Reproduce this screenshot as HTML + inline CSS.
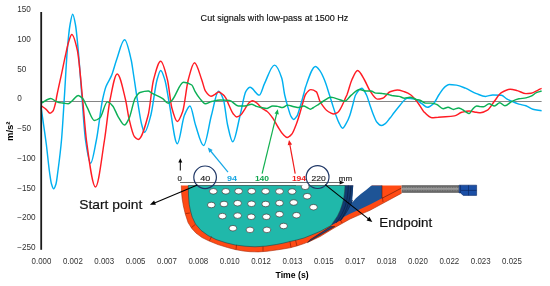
<!DOCTYPE html>
<html><head><meta charset="utf-8"><title>Cut signals with low-pass at 1500 Hz</title>
<style>html,body{margin:0;padding:0;background:#fff;}body{width:550px;height:286px;overflow:hidden;}svg{display:block;}</style>
</head><body>
<svg width="550" height="286" viewBox="0 0 550 286" font-family="'Liberation Sans', Arial, sans-serif"><line x1="41" y1="101.5" x2="541.6" y2="101.5" stroke="#858585" stroke-width="1"/>
<path d="M41.1,107.5C42.9,120.0 44.6,131.1 46.4,145.0C47.4,153.1 48.5,164.8 49.5,172.0C50.2,176.7 50.8,181.8 51.5,184.0C52.2,186.3 52.9,188.7 53.6,188.7C54.4,188.7 55.2,186.5 56.0,184.0C56.6,182.1 57.2,176.5 57.8,172.0C59.0,162.9 60.3,153.7 61.5,140.0C62.5,128.9 63.5,110.5 64.5,95.0C65.4,80.5 66.4,60.9 67.3,50.0C68.2,39.4 69.1,30.0 70.0,25.0C70.9,20.0 71.8,14.2 72.7,14.2C73.6,14.2 74.6,19.9 75.5,25.0C76.4,29.9 77.3,40.5 78.2,50.0C79.4,62.7 80.6,80.2 81.8,95.0C83.0,110.2 84.3,131.5 85.5,140.0C87.2,151.5 88.8,163.3 90.5,163.3C92.5,163.3 94.4,149.7 96.4,140.0C98.4,130.0 100.5,109.6 102.5,100.0C103.7,94.5 104.8,89.7 106.0,86.6C107.9,81.6 109.7,80.0 111.6,75.4C113.2,71.4 114.9,64.6 116.5,60.0C119.2,52.4 121.9,39.8 124.6,39.8C126.8,39.8 129.0,50.5 131.2,60.0C132.0,63.5 132.8,69.9 133.6,75.0C134.9,83.1 136.1,92.3 137.4,100.0C138.9,109.0 140.3,119.8 141.8,125.0C142.7,128.2 143.6,132.3 144.5,132.3C146.6,132.3 148.8,122.9 150.9,115.0C152.9,107.5 155.0,87.0 157.0,80.0C158.2,75.8 159.5,70.5 160.7,70.5C162.1,70.5 163.5,75.6 164.9,80.0C166.3,84.4 167.7,95.0 169.1,102.3C171.8,116.5 174.6,143.7 177.3,143.7C179.7,143.7 182.1,120.5 184.5,115.0C186.3,110.8 188.2,105.9 190.0,105.9C191.8,105.9 193.7,119.6 195.5,125.0C198.2,133.0 200.9,145.5 203.6,145.5C206.2,145.5 208.9,124.5 211.5,115.0C213.8,106.6 216.2,91.3 218.5,91.3C220.1,91.3 221.8,95.2 223.4,99.5C224.8,103.2 226.2,119.0 227.6,125.0C229.3,132.3 231.0,141.8 232.7,141.8C235.2,141.8 237.7,124.6 240.2,115.0C242.1,107.7 244.0,94.2 245.9,91.3C247.3,89.2 248.6,87.3 250.0,87.3C253.1,87.3 256.2,95.1 259.3,95.1C261.0,95.1 262.8,87.1 264.5,83.6C267.8,76.8 271.2,65.1 274.5,65.1C276.9,65.1 279.4,71.0 281.8,78.2C282.8,81.1 283.7,90.6 284.7,95.0C285.9,100.3 287.0,104.2 288.2,108.1C289.1,111.0 289.9,114.4 290.8,116.0C291.7,117.6 292.6,119.5 293.5,119.5C294.7,119.5 295.8,117.8 297.0,116.0C298.2,114.2 299.3,109.3 300.5,105.5C301.7,101.7 302.8,97.3 304.0,93.0C304.5,91.2 305.0,88.8 305.5,87.3C308.8,77.6 312.2,66.4 315.5,66.4C317.0,66.4 318.5,68.9 320.0,70.9C321.5,72.9 323.0,76.4 324.5,80.0C326.2,84.0 327.8,89.8 329.5,95.0C330.7,98.7 331.9,102.9 333.1,106.6C334.1,109.6 335.0,112.8 336.0,115.4C337.0,118.0 337.9,120.7 338.9,122.6C340.1,124.9 341.3,128.2 342.5,128.2C343.7,128.2 345.0,125.4 346.2,123.4C347.4,121.4 348.6,118.7 349.8,115.4C350.8,112.7 351.7,108.6 352.7,105.2C353.7,101.8 354.6,96.7 355.6,95.0C357.7,91.3 359.7,88.2 361.8,88.2C363.4,88.2 364.9,91.9 366.5,95.0C367.5,97.0 368.5,100.8 369.5,103.7C370.7,107.1 371.9,110.9 373.1,113.9C374.3,116.9 375.5,120.4 376.7,121.9C378.2,123.7 379.6,125.5 381.1,125.5C382.6,125.5 384.0,124.4 385.5,123.4C386.9,122.4 388.4,120.1 389.8,118.3C391.3,116.5 392.7,114.4 394.2,112.5C396.1,110.0 398.1,107.5 400.0,105.2C401.5,103.4 403.0,101.2 404.5,100.0C405.4,99.2 406.4,98.2 407.3,98.2C409.7,98.2 412.1,98.6 414.5,99.1C416.9,99.6 419.4,102.0 421.8,103.6C423.6,104.8 425.5,107.3 427.3,107.3C429.4,107.3 431.5,105.4 433.6,103.6C435.4,102.0 437.3,97.1 439.1,94.5C441.2,91.4 443.4,87.9 445.5,86.4C446.7,85.5 447.9,84.5 449.1,84.5C451.5,84.5 454.0,84.8 456.4,85.1C459.4,85.5 462.5,87.0 465.5,88.2C469.1,89.7 472.8,92.2 476.4,93.6C479.4,94.7 482.5,96.4 485.5,96.4C487.9,96.4 490.3,94.9 492.7,94.9C495.6,94.9 498.5,95.0 501.4,95.3C503.2,95.5 504.9,97.8 506.7,98.8C508.4,99.8 510.2,100.6 511.9,101.4C514.2,102.4 516.6,103.4 518.9,104.1C521.2,104.8 523.6,105.0 525.9,105.8C528.2,106.6 530.6,108.7 532.9,109.3C535.8,110.0 538.7,110.2 541.6,110.7" fill="none" stroke="#00b0f0" stroke-width="1.45" stroke-linejoin="round"/>
<path d="M41.1,105.7C42.9,107.0 44.6,108.1 46.4,109.6C47.6,110.6 48.8,113.2 50.0,113.2C51.0,113.2 52.0,112.2 53.0,111.0C53.8,110.1 54.5,107.0 55.3,104.0C55.9,101.8 56.4,97.8 57.0,95.0C58.5,87.7 59.9,81.5 61.4,74.6C62.9,67.7 64.3,60.3 65.8,53.8C66.7,49.7 67.7,44.8 68.6,42.0C69.7,38.8 70.7,34.5 71.8,34.5C73.6,34.5 75.5,42.1 77.3,50.0C79.1,57.8 80.9,82.0 82.7,100.0C83.9,112.4 85.2,130.9 86.4,140.0C89.4,162.3 92.5,187.0 95.5,187.0C98.5,187.0 101.5,158.5 104.5,140.0C106.3,128.7 108.2,109.0 110.0,100.0C112.4,88.2 114.8,74.0 117.2,74.0C120.0,74.0 122.8,88.5 125.6,100.0C126.7,104.7 127.9,113.8 129.0,118.6C130.8,126.3 132.7,134.7 134.5,136.8C135.7,138.2 137.0,139.5 138.2,139.5C141.5,139.5 144.9,127.5 148.2,115.0C150.0,108.4 151.7,86.7 153.5,80.0C155.9,70.9 158.3,61.3 160.7,61.3C163.0,61.3 165.2,71.0 167.5,80.0C168.9,85.7 170.4,102.5 171.8,107.7C173.6,114.4 175.5,121.4 177.3,121.4C179.1,121.4 180.9,116.4 182.7,111.4C184.5,106.3 186.4,86.9 188.2,80.0C190.3,72.2 192.4,62.7 194.5,62.7C196.9,62.7 199.4,73.4 201.8,80.0C203.0,83.3 204.3,89.4 205.5,91.2C207.3,93.9 209.2,96.3 211.0,96.3C212.3,96.3 213.6,95.1 214.9,94.4C216.1,93.7 217.4,92.0 218.6,92.0C220.0,92.0 221.4,93.3 222.8,94.4C223.9,95.2 224.9,96.6 226.0,98.3C227.0,99.9 228.0,103.1 229.0,105.3C230.4,108.3 231.8,112.0 233.2,113.7C234.4,115.1 235.5,116.9 236.7,116.9C238.1,116.9 239.4,116.0 240.8,115.0C242.2,114.0 243.6,110.8 245.0,108.8C246.7,106.4 248.3,102.8 250.0,101.8C250.9,101.3 251.8,100.7 252.7,100.7C254.1,100.7 255.6,102.1 257.0,103.2C258.4,104.2 259.7,106.2 261.1,107.4C262.4,108.5 263.7,109.4 265.0,110.2C265.7,110.7 266.5,110.9 267.2,111.5C269.0,112.8 270.7,115.3 272.5,117.7C274.2,120.1 276.0,123.8 277.7,126.5C279.5,129.3 281.2,132.6 283.0,134.3C284.4,135.7 285.9,137.5 287.3,137.5C288.8,137.5 290.2,135.9 291.7,134.3C293.2,132.7 294.6,128.4 296.1,124.7C297.3,121.7 298.4,118.0 299.6,114.2C300.8,110.4 301.9,105.8 303.1,102.0C303.9,99.4 304.7,95.7 305.5,94.5C307.3,91.8 309.1,89.6 310.9,89.6C312.7,89.6 314.6,90.5 316.4,91.8C317.6,92.7 318.8,99.2 320.0,101.5C321.0,103.4 321.9,104.6 322.9,105.9C324.1,107.5 325.3,109.3 326.5,110.3C327.7,111.3 329.0,112.2 330.2,112.7C331.4,113.2 332.6,113.9 333.8,113.9C335.0,113.9 336.3,113.4 337.5,112.7C338.5,112.2 339.4,110.4 340.4,108.8C341.4,107.2 342.3,105.1 343.3,103.0C344.0,101.4 344.8,99.5 345.5,97.9C346.0,96.9 346.4,96.1 346.9,95.0C348.5,91.1 350.2,83.5 351.8,80.0C353.7,75.8 355.7,70.5 357.6,70.5C359.9,70.5 362.2,76.2 364.5,80.0C366.3,83.0 368.2,88.2 370.0,90.9C372.4,94.4 374.9,99.1 377.3,99.1C379.1,99.1 380.9,98.7 382.7,98.2C385.1,97.5 387.6,92.7 390.0,91.8C392.4,90.9 394.9,90.0 397.3,90.0C399.7,90.0 402.1,91.0 404.5,91.8C406.6,92.5 408.8,93.5 410.9,95.0C413.3,96.7 415.8,100.0 418.2,103.2C420.0,105.5 421.8,109.5 423.6,111.4C426.3,114.3 429.1,117.7 431.8,117.7C433.9,117.7 436.1,117.3 438.2,117.2C440.6,117.0 443.1,117.0 445.5,116.8C448.5,116.6 451.5,116.4 454.5,115.9C456.9,115.5 459.4,112.9 461.8,112.3C464.2,111.7 466.7,111.0 469.1,111.0C471.5,111.0 474.0,112.0 476.4,112.3C477.8,112.5 479.1,112.8 480.5,112.8C482.8,112.8 485.2,111.6 487.5,110.2C489.8,108.8 492.2,103.9 494.5,101.0C496.8,98.1 499.1,94.1 501.4,92.7C504.3,90.9 507.3,89.2 510.2,89.2C512.5,89.2 514.9,90.0 517.2,90.6C520.1,91.3 523.0,93.6 525.9,93.6C527.6,93.6 529.4,93.4 531.1,93.2C533.4,92.9 535.8,91.2 538.1,90.1C539.3,89.5 540.4,88.9 541.6,88.3" fill="none" stroke="#ff1c24" stroke-width="1.45" stroke-linejoin="round"/>
<path d="M41.8,102.9C44.7,101.4 47.7,98.4 50.6,98.4C52.5,98.4 54.3,100.8 56.2,101.5C57.8,102.1 59.5,102.7 61.1,102.9C62.1,103.0 63.0,103.1 64.0,103.2C65.4,103.4 66.8,103.7 68.2,103.7C69.6,103.7 71.1,101.6 72.5,100.5C74.4,99.0 76.3,95.5 78.2,95.5C79.7,95.5 81.2,97.1 82.7,98.6C84.2,100.2 85.8,104.8 87.3,107.7C89.7,112.2 92.1,120.5 94.5,120.5C96.3,120.5 98.2,119.2 100.0,117.7C102.4,115.8 104.9,101.9 107.3,101.9C109.1,101.9 110.9,104.0 112.7,105.9C114.5,107.9 116.4,113.9 118.2,116.8C120.3,120.1 122.4,125.0 124.5,125.0C126.0,125.0 127.5,121.5 129.0,118.6C131.1,114.5 133.2,101.2 135.3,97.8C136.9,95.2 138.4,93.0 140.0,92.5C142.7,91.6 145.5,91.0 148.2,91.0C149.4,91.0 150.6,92.5 151.8,93.2C155.4,95.2 159.1,96.3 162.7,98.6C164.5,99.8 166.4,103.2 168.2,103.2C169.4,103.2 170.6,101.6 171.8,100.5C175.7,96.8 179.7,82.3 183.6,82.3C186.3,82.3 189.1,83.3 191.8,85.0C192.9,85.7 193.9,89.5 195.0,91.3C196.7,94.2 198.4,96.9 200.1,98.9C201.8,100.9 203.5,103.7 205.2,103.7C207.3,103.7 209.4,102.0 211.5,101.5C214.5,100.8 217.5,99.9 220.5,99.9C223.5,99.9 226.4,100.1 229.4,100.4C232.4,100.7 235.3,105.9 238.3,105.9C240.5,105.9 242.7,105.9 244.9,105.9C247.1,105.9 249.3,104.3 251.5,104.3C253.1,104.3 254.8,105.9 256.4,106.4C258.0,106.9 259.7,107.2 261.3,107.5C263.2,107.9 265.1,108.4 267.0,108.4C268.9,108.4 270.8,105.9 272.7,105.9C274.3,105.9 276.0,106.2 277.6,106.4C279.3,106.6 280.9,107.5 282.6,107.5C284.2,107.5 285.9,105.1 287.5,105.1C289.7,105.1 291.8,106.3 294.0,106.7C295.6,107.0 297.3,107.5 298.9,107.5C300.5,107.5 302.2,105.9 303.8,105.9C304.9,105.9 306.0,107.0 307.1,107.5C308.2,108.0 309.3,109.2 310.4,109.2C311.5,109.2 312.5,108.1 313.6,107.5C315.3,106.5 316.9,105.4 318.6,104.3C320.2,103.2 321.9,101.9 323.5,101.0C326.0,99.6 328.4,97.3 330.9,97.3C333.9,97.3 336.8,98.8 339.8,99.7C341.4,100.2 343.1,101.2 344.7,101.2C346.9,101.2 349.1,96.9 351.3,95.1C354.0,92.9 356.8,89.4 359.5,89.4C361.7,89.4 363.8,91.0 366.0,91.0C367.6,91.0 369.3,91.0 370.9,91.0C372.5,91.0 374.2,92.9 375.8,93.1C378.0,93.3 380.2,93.3 382.4,93.5C384.0,93.6 385.7,94.0 387.3,94.3C388.8,94.6 390.3,95.2 391.8,95.5C394.2,95.9 396.7,96.0 399.1,96.4C400.9,96.7 402.7,98.2 404.5,98.2C406.3,98.2 408.2,97.3 410.0,97.3C412.1,97.3 414.3,98.9 416.4,99.5C417.6,99.8 418.8,99.9 420.0,100.3C421.9,100.9 423.7,103.1 425.6,103.1C427.5,103.1 429.3,103.1 431.2,103.1C433.1,103.1 434.9,103.8 436.8,104.5C438.9,105.3 441.0,108.7 443.1,108.7C444.7,108.7 446.4,107.3 448.0,107.3C449.9,107.3 451.7,109.4 453.6,109.4C455.2,109.4 456.9,108.0 458.5,108.0C459.7,108.0 460.8,108.8 462.0,109.4C463.4,110.1 464.8,111.4 466.2,112.2C467.1,112.7 468.1,113.6 469.0,113.6C470.1,113.6 471.3,110.5 472.4,109.4C473.8,108.0 475.2,105.9 476.6,105.9C477.7,105.9 478.9,106.5 480.0,106.6C481.2,106.7 482.4,106.8 483.6,106.8C485.4,106.8 487.3,103.7 489.1,103.7C490.9,103.7 492.7,105.9 494.5,105.9C496.2,105.9 498.0,102.8 499.7,102.8C501.4,102.8 503.2,105.8 504.9,105.8C507.2,105.8 509.6,102.5 511.9,101.4C514.2,100.3 516.6,99.2 518.9,98.8C521.2,98.4 523.6,98.3 525.9,97.9C527.6,97.6 529.4,97.0 531.1,96.2C532.9,95.4 534.6,93.5 536.4,92.7C538.1,91.9 539.9,91.6 541.6,91.0" fill="none" stroke="#0caf55" stroke-width="1.45" stroke-linejoin="round"/>
<line x1="41.2" y1="12" x2="41.2" y2="249.8" stroke="#1a1a1a" stroke-width="1.8"/>
<text x="17.2" y="12.3" font-size="8.2" fill="#333">150</text>
<text x="17.2" y="42.0" font-size="8.2" fill="#333">100</text>
<text x="17.2" y="71.7" font-size="8.2" fill="#333">50</text>
<text x="17.2" y="101.4" font-size="8.2" fill="#333">0</text>
<text x="17.2" y="131.1" font-size="8.2" fill="#333">−50</text>
<text x="17.2" y="160.8" font-size="8.2" fill="#333">−100</text>
<text x="17.2" y="190.5" font-size="8.2" fill="#333">−150</text>
<text x="17.2" y="220.2" font-size="8.2" fill="#333">−200</text>
<text x="17.2" y="249.9" font-size="8.2" fill="#333">−250</text>
<text x="41.5" y="263.5" font-size="8.2" fill="#333" text-anchor="middle" textLength="19.8" lengthAdjust="spacingAndGlyphs">0.000</text>
<text x="72.9" y="263.5" font-size="8.2" fill="#333" text-anchor="middle" textLength="19.8" lengthAdjust="spacingAndGlyphs">0.002</text>
<text x="104.2" y="263.5" font-size="8.2" fill="#333" text-anchor="middle" textLength="19.8" lengthAdjust="spacingAndGlyphs">0.003</text>
<text x="135.6" y="263.5" font-size="8.2" fill="#333" text-anchor="middle" textLength="19.8" lengthAdjust="spacingAndGlyphs">0.005</text>
<text x="167.0" y="263.5" font-size="8.2" fill="#333" text-anchor="middle" textLength="19.8" lengthAdjust="spacingAndGlyphs">0.007</text>
<text x="198.3" y="263.5" font-size="8.2" fill="#333" text-anchor="middle" textLength="19.8" lengthAdjust="spacingAndGlyphs">0.008</text>
<text x="229.7" y="263.5" font-size="8.2" fill="#333" text-anchor="middle" textLength="19.8" lengthAdjust="spacingAndGlyphs">0.010</text>
<text x="261.1" y="263.5" font-size="8.2" fill="#333" text-anchor="middle" textLength="19.8" lengthAdjust="spacingAndGlyphs">0.012</text>
<text x="292.5" y="263.5" font-size="8.2" fill="#333" text-anchor="middle" textLength="19.8" lengthAdjust="spacingAndGlyphs">0.013</text>
<text x="323.8" y="263.5" font-size="8.2" fill="#333" text-anchor="middle" textLength="19.8" lengthAdjust="spacingAndGlyphs">0.015</text>
<text x="355.2" y="263.5" font-size="8.2" fill="#333" text-anchor="middle" textLength="19.8" lengthAdjust="spacingAndGlyphs">0.017</text>
<text x="386.6" y="263.5" font-size="8.2" fill="#333" text-anchor="middle" textLength="19.8" lengthAdjust="spacingAndGlyphs">0.018</text>
<text x="417.9" y="263.5" font-size="8.2" fill="#333" text-anchor="middle" textLength="19.8" lengthAdjust="spacingAndGlyphs">0.020</text>
<text x="449.3" y="263.5" font-size="8.2" fill="#333" text-anchor="middle" textLength="19.8" lengthAdjust="spacingAndGlyphs">0.022</text>
<text x="480.7" y="263.5" font-size="8.2" fill="#333" text-anchor="middle" textLength="19.8" lengthAdjust="spacingAndGlyphs">0.023</text>
<text x="512.0" y="263.5" font-size="8.2" fill="#333" text-anchor="middle" textLength="19.8" lengthAdjust="spacingAndGlyphs">0.025</text>
<text x="275.6" y="278" font-size="9" font-weight="bold" fill="#000" textLength="33" lengthAdjust="spacingAndGlyphs">Time (s)</text>
<text transform="translate(12.9,141) rotate(-90)" font-size="9" font-weight="bold" fill="#000" textLength="19.5" lengthAdjust="spacingAndGlyphs">m/s²</text>
<text x="200.6" y="21.4" font-size="8.8" fill="#111" stroke="#111" stroke-width="0.15" textLength="147.8" lengthAdjust="spacingAndGlyphs">Cut signals with low-pass at 1500 Hz</text>
<polygon points="181.3,185.5 181.5,192.0 182.2,199.0 183.4,206.0 185.3,214.0 188.1,222.6 191.8,228.5 196.0,233.1 202.0,237.5 209.1,241.0 218.0,244.6 227.5,247.5 235.0,249.5 243.2,251.0 250.0,251.7 258.2,251.9 267.0,251.3 276.4,250.0 283.0,249.0 290.0,247.8 297.0,245.9 304.0,243.6 311.0,240.8 320.0,236.6 334.0,228.0 350.0,219.0 360.0,214.6 370.0,210.3 401.6,193.2 401.6,185.5" fill="#ff4a14"/>
<polyline points="181.3,185.5 181.5,192.0 182.2,199.0 183.4,206.0 185.3,214.0 188.1,222.6 191.8,228.5 196.0,233.1 202.0,237.5 209.1,241.0 218.0,244.6 227.5,247.5 235.0,249.5 243.2,251.0 250.0,251.7 258.2,251.9 267.0,251.3 276.4,250.0 283.0,249.0 290.0,247.8 297.0,245.9 304.0,243.6 311.0,240.8 320.0,236.6 334.0,228.0 350.0,219.0 360.0,214.6 370.0,210.3 401.6,193.2" fill="none" stroke="#a82a0a" stroke-width="0.6"/>
<polygon points="345.1,185.5 344.6,192.0 343.6,199.2 342.0,205.0 340.0,210.8 337.5,216.0 334.5,220.4 331.0,225.6 340.0,219.0 350.0,213.8 360.0,209.3 370.0,204.6 382.0,198.3 382.0,185.5" fill="#1e5496"/>
<polygon points="353.3,184.7 372.3,184.7 366.4,189.8 360.8,194.0 355.9,198.2 352.2,202.6 352.6,195.0" fill="#ffffff"/>
<polygon points="345.1,185.5 344.6,192 343.6,199.2 342,205 340,210.8 337.5,216 334.5,220.4 331,225.6 342,219.6 347,211 350.6,205 352.4,195 353.2,185.5" fill="#123a70"/>
<polygon points="188.3,185.5 188.5,195.0 189.2,204.2 190.5,211.0 192.3,217.3 195.5,224.0 201.2,230.5 208.0,235.5 216.0,239.5 226.0,242.8 235.3,245.0 245.0,246.2 255.0,246.8 266.0,246.1 276.4,244.5 283.0,243.2 290.0,241.5 297.0,239.9 304.0,238.0 311.0,235.2 320.0,231.4 326.0,228.2 331.0,225.6 334.5,220.4 337.5,216.0 340.0,210.8 342.0,205.0 343.6,199.2 344.6,192.0 345.1,185.5" fill="#20b8aa" stroke="#0d4a50" stroke-width="0.6"/>
<path d="M348.3,185.5 C348,200 345,212 336,223 M350.8,186 C350.5,199 347.5,210 340,221 M352.5,200 C350,207 346,214 340,221" fill="none" stroke="#0a1f45" stroke-width="0.7"/>
<path d="M382,185.5 L382,198.3 L401.5,188.1" fill="none" stroke="#5a1a08" stroke-width="0.6"/>
<line x1="185.6" y1="213.6" x2="189.8" y2="213.0" stroke="#7a1a05" stroke-width="0.6"/>
<line x1="191.5" y1="227.5" x2="195.2" y2="224.5" stroke="#7a1a05" stroke-width="0.6"/>
<line x1="209.5" y1="240.8" x2="211.5" y2="236.5" stroke="#7a1a05" stroke-width="0.6"/>
<line x1="236.0" y1="249.8" x2="236.5" y2="244.8" stroke="#7a1a05" stroke-width="0.6"/>
<line x1="263.0" y1="251.5" x2="263.0" y2="246.5" stroke="#7a1a05" stroke-width="0.6"/>
<line x1="291.0" y1="247.6" x2="290.0" y2="241.6" stroke="#7a1a05" stroke-width="0.6"/>
<line x1="297.0" y1="245.9" x2="295.5" y2="240.2" stroke="#7a1a05" stroke-width="0.6"/>
<line x1="383.0" y1="202.0" x2="382.5" y2="197.5" stroke="#7a1a05" stroke-width="0.6"/>
<line x1="342.0" y1="223.0" x2="340.0" y2="219.0" stroke="#7a1a05" stroke-width="0.6"/>
<path d="M307.5,242.6 L334.8,226.4 L330.5,226.6 L310,239.8 Z" fill="#27407a" stroke="#3a1208" stroke-width="0.5"/>
<defs><linearGradient id="hg" x1="0" y1="0" x2="0" y2="1"><stop offset="0" stop-color="#454545"/><stop offset="0.15" stop-color="#6a6a6a"/><stop offset="0.4" stop-color="#9c9c9c"/><stop offset="0.6" stop-color="#8e8e8e"/><stop offset="0.85" stop-color="#686868"/><stop offset="1" stop-color="#3e3e3e"/></linearGradient></defs>
<rect x="401.6" y="185.3" width="57.6" height="7.4" fill="url(#hg)"/>
<path d="M402,187.3 H459 M402,190.6 H459" stroke="#5e5e5e" stroke-width="0.7" stroke-dasharray="1.2 1.3"/>
<polygon points="459.1,185.2 476.6,185.2 476.6,195.4 463.3,195.4 460.5,192.9 459.1,192.9" fill="#1b4fa6" stroke="#0c2a66" stroke-width="0.6"/>
<path d="M460.5,185.3 L460.5,193 M468.5,185.3 L468.5,195.3 M461,190.4 L476.5,190.4" stroke="#0c2a66" stroke-width="0.7"/>
<ellipse cx="213.3" cy="191.3" rx="3.9" ry="2.8" fill="#ffffff" stroke="#3a3a3a" stroke-width="0.7"/>
<ellipse cx="225.8" cy="191.3" rx="3.9" ry="2.8" fill="#ffffff" stroke="#3a3a3a" stroke-width="0.7"/>
<ellipse cx="238.6" cy="191.2" rx="3.9" ry="2.8" fill="#ffffff" stroke="#3a3a3a" stroke-width="0.7"/>
<ellipse cx="251.7" cy="191.2" rx="3.9" ry="2.8" fill="#ffffff" stroke="#3a3a3a" stroke-width="0.7"/>
<ellipse cx="265.6" cy="191.3" rx="3.9" ry="2.8" fill="#ffffff" stroke="#3a3a3a" stroke-width="0.7"/>
<ellipse cx="279.5" cy="191.4" rx="3.9" ry="2.8" fill="#ffffff" stroke="#3a3a3a" stroke-width="0.7"/>
<ellipse cx="292.1" cy="191.5" rx="3.9" ry="2.8" fill="#ffffff" stroke="#3a3a3a" stroke-width="0.7"/>
<ellipse cx="305.2" cy="186.8" rx="3.9" ry="2.8" fill="#ffffff" stroke="#3a3a3a" stroke-width="0.7"/>
<ellipse cx="211.3" cy="205.0" rx="3.9" ry="2.8" fill="#ffffff" stroke="#3a3a3a" stroke-width="0.7"/>
<ellipse cx="224.0" cy="204.0" rx="3.9" ry="2.8" fill="#ffffff" stroke="#3a3a3a" stroke-width="0.7"/>
<ellipse cx="237.6" cy="203.2" rx="3.9" ry="2.8" fill="#ffffff" stroke="#3a3a3a" stroke-width="0.7"/>
<ellipse cx="251.5" cy="203.8" rx="3.9" ry="2.8" fill="#ffffff" stroke="#3a3a3a" stroke-width="0.7"/>
<ellipse cx="265.7" cy="204.0" rx="3.9" ry="2.8" fill="#ffffff" stroke="#3a3a3a" stroke-width="0.7"/>
<ellipse cx="279.5" cy="203.1" rx="3.9" ry="2.8" fill="#ffffff" stroke="#3a3a3a" stroke-width="0.7"/>
<ellipse cx="293.7" cy="202.5" rx="3.9" ry="2.8" fill="#ffffff" stroke="#3a3a3a" stroke-width="0.7"/>
<ellipse cx="307.2" cy="196.2" rx="3.9" ry="2.8" fill="#ffffff" stroke="#3a3a3a" stroke-width="0.7"/>
<ellipse cx="222.4" cy="216.1" rx="3.9" ry="2.8" fill="#ffffff" stroke="#3a3a3a" stroke-width="0.7"/>
<ellipse cx="237.6" cy="215.6" rx="3.9" ry="2.8" fill="#ffffff" stroke="#3a3a3a" stroke-width="0.7"/>
<ellipse cx="251.2" cy="216.8" rx="3.9" ry="2.8" fill="#ffffff" stroke="#3a3a3a" stroke-width="0.7"/>
<ellipse cx="266.4" cy="216.8" rx="3.9" ry="2.8" fill="#ffffff" stroke="#3a3a3a" stroke-width="0.7"/>
<ellipse cx="279.5" cy="214.2" rx="3.9" ry="2.8" fill="#ffffff" stroke="#3a3a3a" stroke-width="0.7"/>
<ellipse cx="296.5" cy="215.2" rx="3.9" ry="2.8" fill="#ffffff" stroke="#3a3a3a" stroke-width="0.7"/>
<ellipse cx="313.5" cy="207.2" rx="3.9" ry="2.8" fill="#ffffff" stroke="#3a3a3a" stroke-width="0.7"/>
<ellipse cx="232.9" cy="228.2" rx="3.9" ry="2.8" fill="#ffffff" stroke="#3a3a3a" stroke-width="0.7"/>
<ellipse cx="250.0" cy="229.9" rx="3.9" ry="2.8" fill="#ffffff" stroke="#3a3a3a" stroke-width="0.7"/>
<ellipse cx="266.9" cy="229.9" rx="3.9" ry="2.8" fill="#ffffff" stroke="#3a3a3a" stroke-width="0.7"/>
<ellipse cx="283.6" cy="226.0" rx="3.9" ry="2.8" fill="#ffffff" stroke="#3a3a3a" stroke-width="0.7"/>
<rect x="296" y="182.9" width="14" height="2.4" fill="#ffffff"/>
<line x1="180" y1="182.5" x2="341" y2="182.5" stroke="#606060" stroke-width="0.9"/>
<polygon points="344.4,182.5 339.6,180.6 339.6,184.4" fill="#111"/>
<line x1="180.3" y1="170.5" x2="180.3" y2="161" stroke="#000" stroke-width="1"/>
<polygon points="180.3,158.3 178.3,162.5 182.3,162.5" fill="#000"/>
<text x="177.5" y="180.8" font-size="7.9" fill="#222" stroke="#222" stroke-width="0.15" textLength="4.4" lengthAdjust="spacingAndGlyphs">0</text>
<text x="200.3" y="180.8" font-size="7.9" fill="#222" stroke="#222" stroke-width="0.15" textLength="10.0" lengthAdjust="spacingAndGlyphs">40</text>
<text x="226.9" y="180.8" font-size="7.9" fill="#16a5e2" font-weight="bold" textLength="10.0" lengthAdjust="spacingAndGlyphs">94</text>
<text x="254.9" y="180.8" font-size="7.9" fill="#10a54c" font-weight="bold" textLength="14.2" lengthAdjust="spacingAndGlyphs">140</text>
<text x="291.9" y="180.8" font-size="7.9" fill="#f01c1c" font-weight="bold" textLength="14.2" lengthAdjust="spacingAndGlyphs">194</text>
<text x="311.6" y="180.8" font-size="7.9" fill="#222" stroke="#222" stroke-width="0.15" textLength="14.2" lengthAdjust="spacingAndGlyphs">220</text>
<text x="338.7" y="180.8" font-size="7.6" fill="#222" stroke="#222" stroke-width="0.15" textLength="13.4" lengthAdjust="spacingAndGlyphs">mm</text>
<circle cx="205.1" cy="177.3" r="11.3" fill="none" stroke="#1f3766" stroke-width="1.2"/>
<circle cx="317.6" cy="177.1" r="11.4" fill="none" stroke="#1f3766" stroke-width="1.2"/>
<line x1="228.0" y1="172.2" x2="210.6" y2="151.0" stroke="#16a8e6" stroke-width="1.2"/>
<polygon points="207.8,147.5 212.7,150.0 209.3,152.8" fill="#16a8e6"/>
<line x1="262.1" y1="173.6" x2="276.7" y2="113.6" stroke="#12b050" stroke-width="1.2"/>
<polygon points="277.8,109.2 278.8,114.6 274.5,113.5" fill="#12b050"/>
<line x1="295.2" y1="173.6" x2="289.8" y2="144.4" stroke="#f01c1c" stroke-width="1.2"/>
<polygon points="289.0,140.0 292.1,144.5 287.7,145.3" fill="#f01c1c"/>
<line x1="197.4" y1="185.1" x2="154.5" y2="202.9" stroke="#000" stroke-width="1.1"/>
<polygon points="149.9,204.8 154.1,200.6 155.9,204.8" fill="#000"/>
<line x1="325.1" y1="184.6" x2="368.4" y2="218.9" stroke="#000" stroke-width="1.1"/>
<polygon points="372.3,222.0 366.6,220.4 369.4,216.8" fill="#000"/>
<text x="79.2" y="209" font-size="13.3" fill="#111" stroke="#111" stroke-width="0.18" textLength="63.2" lengthAdjust="spacingAndGlyphs">Start point</text>
<text x="379.3" y="227" font-size="12.8" fill="#111" stroke="#111" stroke-width="0.18" textLength="53" lengthAdjust="spacingAndGlyphs">Endpoint</text></svg>
</body></html>
